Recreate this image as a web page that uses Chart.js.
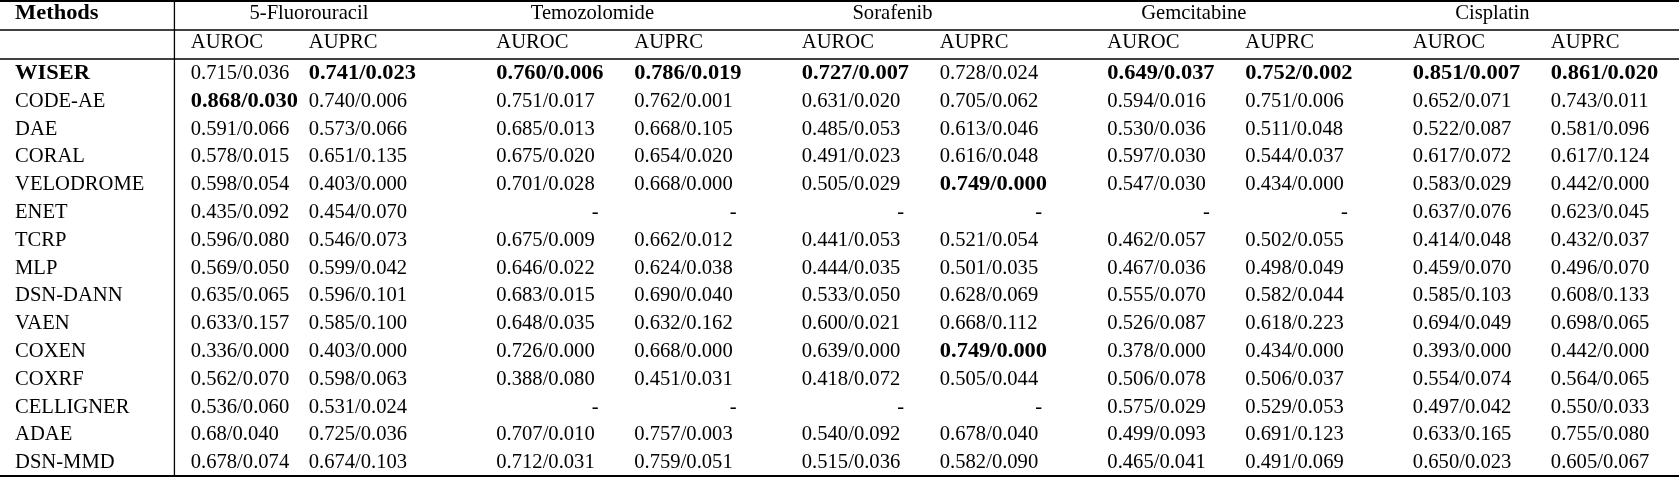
<!DOCTYPE html>
<html>
<head>
<meta charset="utf-8">
<script src="https://cdn.jsdelivr.net/npm/chart.js@4.4.1/dist/chart.umd.min.js"></script>
<style>
  html, body { margin: 0; padding: 0; background: #fff; }
  #wrap { width: 1679px; height: 481px; position: relative; }
</style>
</head>
<body>
<div id="wrap"><canvas id="c"></canvas></div>
<script>
// ---------- DATA ----------
const methods = ['WISER','CODE-AE','DAE','CORAL','VELODROME','ENET','TCRP','MLP','DSN-DANN','VAEN','COXEN','COXRF','CELLIGNER','ADAE','DSN-MMD'];
const drugs = ['5-Fluorouracil','Temozolomide','Sorafenib','Gemcitabine','Cisplatin'];
const metrics = ['AUROC','AUPRC'];

const fluorouracilAUROC = ['0.715/0.036','0.868/0.030','0.591/0.066','0.578/0.015','0.598/0.054','0.435/0.092','0.596/0.080','0.569/0.050','0.635/0.065','0.633/0.157','0.336/0.000','0.562/0.070','0.536/0.060','0.68/0.040','0.678/0.074'];
const fluorouracilAUPRC = ['0.741/0.023','0.740/0.006','0.573/0.066','0.651/0.135','0.403/0.000','0.454/0.070','0.546/0.073','0.599/0.042','0.596/0.101','0.585/0.100','0.403/0.000','0.598/0.063','0.531/0.024','0.725/0.036','0.674/0.103'];
const temozolomideAUROC = ['0.760/0.006','0.751/0.017','0.685/0.013','0.675/0.020','0.701/0.028',null,'0.675/0.009','0.646/0.022','0.683/0.015','0.648/0.035','0.726/0.000','0.388/0.080',null,'0.707/0.010','0.712/0.031'];
const temozolomideAUPRC = ['0.786/0.019','0.762/0.001','0.668/0.105','0.654/0.020','0.668/0.000',null,'0.662/0.012','0.624/0.038','0.690/0.040','0.632/0.162','0.668/0.000','0.451/0.031',null,'0.757/0.003','0.759/0.051'];
const sorafenibAUROC = ['0.727/0.007','0.631/0.020','0.485/0.053','0.491/0.023','0.505/0.029',null,'0.441/0.053','0.444/0.035','0.533/0.050','0.600/0.021','0.639/0.000','0.418/0.072',null,'0.540/0.092','0.515/0.036'];
const sorafenibAUPRC = ['0.728/0.024','0.705/0.062','0.613/0.046','0.616/0.048','0.749/0.000',null,'0.521/0.054','0.501/0.035','0.628/0.069','0.668/0.112','0.749/0.000','0.505/0.044',null,'0.678/0.040','0.582/0.090'];
const gemcitabineAUROC = ['0.649/0.037','0.594/0.016','0.530/0.036','0.597/0.030','0.547/0.030',null,'0.462/0.057','0.467/0.036','0.555/0.070','0.526/0.087','0.378/0.000','0.506/0.078','0.575/0.029','0.499/0.093','0.465/0.041'];
const gemcitabineAUPRC = ['0.752/0.002','0.751/0.006','0.511/0.048','0.544/0.037','0.434/0.000',null,'0.502/0.055','0.498/0.049','0.582/0.044','0.618/0.223','0.434/0.000','0.506/0.037','0.529/0.053','0.691/0.123','0.491/0.069'];
const cisplatinAUROC = ['0.851/0.007','0.652/0.071','0.522/0.087','0.617/0.072','0.583/0.029','0.637/0.076','0.414/0.048','0.459/0.070','0.585/0.103','0.694/0.049','0.393/0.000','0.554/0.074','0.497/0.042','0.633/0.165','0.650/0.023'];
const cisplatinAUPRC = ['0.861/0.020','0.743/0.011','0.581/0.096','0.617/0.124','0.442/0.000','0.623/0.045','0.432/0.037','0.496/0.070','0.608/0.133','0.698/0.065','0.442/0.000','0.564/0.065','0.550/0.033','0.755/0.080','0.605/0.067'];

// best results (bold): [rowIndex, columnIndex]
const bestCells = [[0,1],[0,2],[0,3],[0,4],[0,6],[0,7],[0,8],[0,9],[1,0],[4,5],[10,5]];
const boldMethods = ['WISER'];

const columns = [fluorouracilAUROC, fluorouracilAUPRC, temozolomideAUROC, temozolomideAUPRC,
                 sorafenibAUROC, sorafenibAUPRC, gemcitabineAUROC, gemcitabineAUPRC,
                 cisplatinAUROC, cisplatinAUPRC];

// ---------- LAYOUT (scale units) ----------
const GROUP_STEP = 2.214;                     // distance between drug groups on the x scale
const PAIR_STEP = [0.855, 1, 1, 1, 1];        // AUROC -> AUPRC distance inside each group
const HEADER_OFF = [0.5, 0.34, 0.30, 0.27, 0.22]; // drug-name centre relative to its AUROC column
const colX = c => Math.floor(c / 2) * GROUP_STEP + (c % 2) * PAIR_STEP[Math.floor(c / 2)];
const X_MIN = -1.739, X_MAX = 10.428;
const X_METHODS = -1.630, X_VLINE = -0.475;
const Y_MIN = -2.645, Y_MAX = 14.657;
const Y_TOP = -2.609, Y_DRUG = -2.14, Y_DRUGLINE = -1.566, Y_METRIC = -1.1, Y_MIDRULE = -0.523, Y_BOTTOM = 14.48;

const FONT = '"Liberation Serif", "Times New Roman", serif';
const fNormal = '20.6px ' + FONT;
const fBold = 'bold 20.6px ' + FONT;
const BOLD_STRETCH = 1.09;   // bold glyphs are a little wider in the reference

const isBest = (r, c) => bestCells.some(b => b[0] === r && b[1] === c);

const datasets = columns.map((col, c) => ({
  label: drugs[Math.floor(c / 2)] + ' ' + metrics[c % 2],
  cellText: col,
  data: col.map((v, r) => ({ x: colX(c), y: r })),
  pointRadius: 0,
  pointHoverRadius: 0,
  showLine: false
}));

const tablePlugin = {
  id: 'tableText',
  beforeDraw(chart) {
    const ctx = chart.ctx;
    ctx.save();
    ctx.fillStyle = '#fff';
    ctx.fillRect(0, 0, chart.width, chart.height);
    ctx.restore();
  },
  afterDatasetsDraw(chart) {
    const { ctx } = chart;
    const x = chart.scales.x, y = chart.scales.y;
    const W = chart.width;
    ctx.save();
    ctx.fillStyle = '#000';
    ctx.strokeStyle = '#000';
    ctx.font = fNormal;
    const refW = ctx.measureText('0.000/0.000').width;

    const text = (t, px, py, bold, align) => {
      ctx.save();
      ctx.font = bold ? fBold : fNormal;
      ctx.textAlign = align;
      ctx.textBaseline = 'middle';
      ctx.translate(px, py);
      if (bold) ctx.scale(BOLD_STRETCH, 1);
      ctx.fillText(t, 0, 0);
      ctx.restore();
    };

    const hline = (v, lw) => {
      const py = y.getPixelForValue(v);
      ctx.lineWidth = lw;
      ctx.beginPath(); ctx.moveTo(0, py); ctx.lineTo(W, py); ctx.stroke();
    };
    hline(Y_TOP, 2);
    hline(Y_DRUGLINE, 1.3);
    hline(Y_MIDRULE, 1.3);
    hline(Y_BOTTOM, 2);
    // vertical separator
    const vx = x.getPixelForValue(X_VLINE);
    ctx.lineWidth = 1.3;
    ctx.beginPath();
    ctx.moveTo(vx, y.getPixelForValue(Y_TOP));
    ctx.lineTo(vx, y.getPixelForValue(Y_BOTTOM));
    ctx.stroke();

    // header row
    text('Methods', x.getPixelForValue(X_METHODS), y.getPixelForValue(Y_DRUG), true, 'left');
    drugs.forEach((d, g) => {
      text(d, x.getPixelForValue(colX(2 * g) + HEADER_OFF[g]), y.getPixelForValue(Y_DRUG), false, 'center');
    });
    for (let c = 0; c < columns.length; c++) {
      text(metrics[c % 2], x.getPixelForValue(colX(c)) - refW / 2, y.getPixelForValue(Y_METRIC), false, 'left');
    }
    // method names
    methods.forEach((m, r) => {
      text(m, x.getPixelForValue(X_METHODS), y.getPixelForValue(r), boldMethods.includes(m), 'left');
    });
    // cells
    chart.data.datasets.forEach((ds, c) => {
      const meta = chart.getDatasetMeta(c);
      meta.data.forEach((pt, r) => {
        const t = ds.cellText[r];
        if (t === null) text('-', pt.x + refW / 2 + 4, pt.y, false, 'right');
        else text(t, pt.x - refW / 2, pt.y, isBest(r, c), 'left');
      });
    });
    ctx.restore();
  }
};

new Chart(document.getElementById('c'), {
  type: 'scatter',
  data: { datasets },
  options: {
    responsive: true,
    maintainAspectRatio: false,
    animation: false,
    events: [],
    layout: { padding: 0 },
    plugins: { legend: { display: false }, tooltip: { enabled: false }, title: { display: false } },
    scales: {
      x: { type: 'linear', display: false, min: X_MIN, max: X_MAX },
      y: { type: 'linear', display: false, min: Y_MIN, max: Y_MAX, reverse: true }
    }
  },
  plugins: [tablePlugin]
});
</script>
</body>
</html>
